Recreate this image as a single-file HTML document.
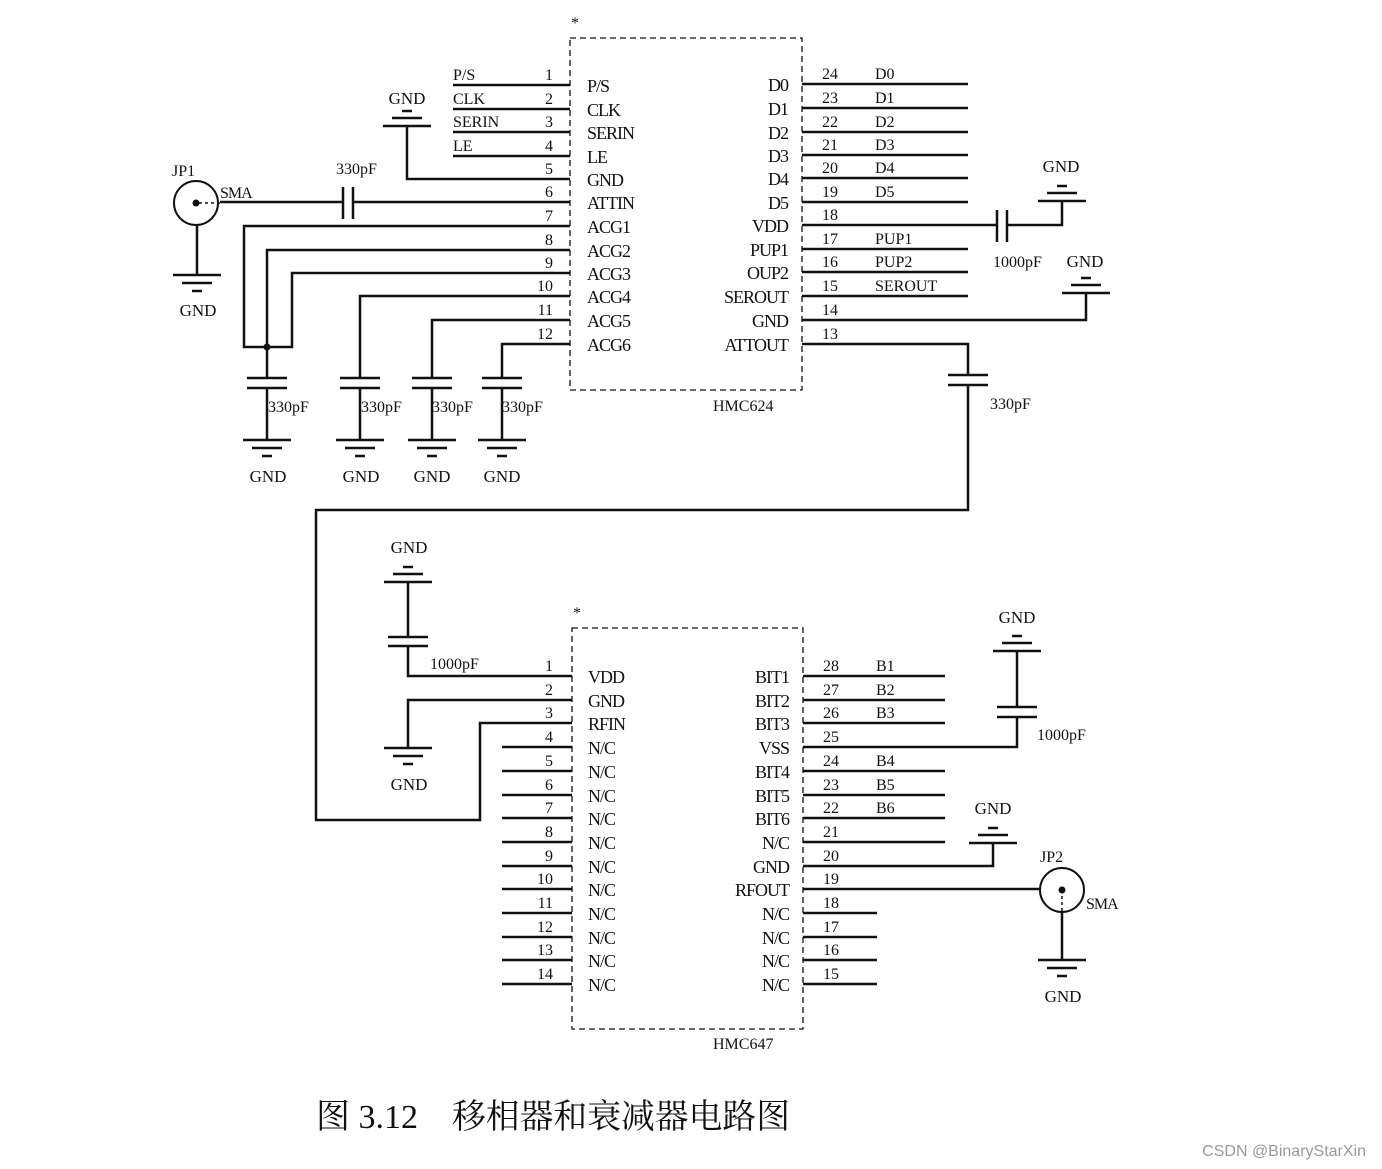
<!DOCTYPE html>
<html><head><meta charset="utf-8"><style>
html,body{margin:0;padding:0;background:#fff;}
svg{display:block;}
text{font-family:"Liberation Serif",serif;fill:#111;}
.l{font-size:18px;letter-spacing:-1px;}
.n{font-size:16px;}
.g{font-size:17px;text-anchor:middle;}
.e{text-anchor:end;}
.m{text-anchor:middle;}
</style></head><body>
<svg width="1382" height="1169" viewBox="0 0 1382 1169" xmlns="http://www.w3.org/2000/svg">
<g fill="none" stroke="#111" stroke-width="2.5">
<rect x="570" y="38" width="232" height="352" stroke-width="1.3" stroke-dasharray="6,4"/>
<rect x="572" y="628" width="231" height="401" stroke-width="1.3" stroke-dasharray="6,4"/>
<path d="M453 85H570M453 109H570M453 132H570M453 156H570"/>
<path d="M570 179H407V126"/>
<path d="M383 126h48M392 118h30M402 111h10"/>
<path d="M570 202H353M343 202H220"/>
<path d="M343 187v32M353 187v32"/>
<path d="M220 203H198" stroke-dasharray="3,3" stroke-width="1.5"/>
<circle cx="196" cy="203" r="22" stroke-width="2"/>
<path d="M197 225V275M173 275h48M182 283h30M192 291h10"/>
<path d="M570 226H244V347H292V273H570"/>
<path d="M570 250H267V378"/>
<path d="M570 296H360V378M570 320H432V378M570 344H502V378"/>
<path d="M247 378h40M247 388h40M340 378h40M340 388h40M412 378h40M412 388h40M482 378h40M482 388h40"/>
<path d="M267 388V440M360 388V440M432 388V440M502 388V440"/>
<path d="M243 440h48M252 448h30M262 456h10M336 440h48M345 448h30M355 456h10M408 440h48M417 448h30M427 456h10M478 440h48M487 448h30M497 456h10"/>
<path d="M802 84H968M802 108H968M802 132H968M802 155H968M802 178H968M802 202H968M802 249H968M802 272H968M802 296H968"/>
<path d="M802 225H997M1007 225H1062V201M997 210v32M1007 210v32"/>
<path d="M1038 201h48M1047 193h30M1057 186h10"/>
<path d="M802 320H1086V293M1062 293h48M1071 285h30M1081 278h10"/>
<path d="M802 344H968V375M948 375h40M948 385h40M968 385V510H316V820H480V723H572"/>
<path d="M572 676H408V646M388 646h40M388 637h40M408 637V582M384 582h48M393 574h30M403 567h10"/>
<path d="M572 700H408V748M384 748h48M393 756h30M403 764h10"/>
<path d="M502 747H572M502 771H572M502 795H572M502 818H572M502 842H572M502 866H572M502 889H572M502 913H572M502 937H572M502 960H572M502 984H572"/>
<path d="M803 676H945M803 700H945M803 723H945M803 771H945M803 795H945M803 818H945M803 842H945"/>
<path d="M803 747H1017V717M997 717h40M997 707h40M1017 707V651M993 651h48M1002 643h30M1012 636h10"/>
<path d="M803 866H993V843M969 843h48M978 835h30M988 828h10"/>
<path d="M803 889H1040"/>
<circle cx="1062" cy="890" r="22" stroke-width="2"/>
<path d="M1062 890V912" stroke-dasharray="3,3" stroke-width="1.5"/>
<path d="M1062 912V960M1038 960h48M1047 968h30M1057 976h10"/>
<path d="M803 913H877M803 937H877M803 960H877M803 984H877"/>
</g>
<g fill="#111">
<circle cx="196" cy="203" r="3.5"/><circle cx="267" cy="347" r="3.5"/><circle cx="1062" cy="890" r="3.5"/>
</g>
<text x="571" y="28" class="n">*</text>
<text x="573" y="618" class="n">*</text>
<g class="l">
<text x="587" y="92">P/S</text><text x="587" y="116">CLK</text><text x="587" y="139">SERIN</text><text x="587" y="163">LE</text>
<text x="587" y="186">GND</text><text x="587" y="209">ATTIN</text><text x="587" y="233">ACG1</text><text x="587" y="257">ACG2</text>
<text x="587" y="280">ACG3</text><text x="587" y="303">ACG4</text><text x="587" y="327">ACG5</text><text x="587" y="351">ACG6</text>
</g>
<g class="l e">
<text x="788" y="91">D0</text><text x="788" y="115">D1</text><text x="788" y="139">D2</text><text x="788" y="162">D3</text>
<text x="788" y="185">D4</text><text x="788" y="209">D5</text><text x="788" y="232">VDD</text><text x="788" y="256">PUP1</text>
<text x="788" y="279">OUP2</text><text x="788" y="303">SEROUT</text><text x="788" y="327">GND</text><text x="788" y="351">ATTOUT</text>
</g>
<g class="n e">
<text x="553" y="80">1</text><text x="553" y="104">2</text><text x="553" y="127">3</text><text x="553" y="151">4</text>
<text x="553" y="174">5</text><text x="553" y="197">6</text><text x="553" y="221">7</text><text x="553" y="245">8</text>
<text x="553" y="268">9</text><text x="553" y="291">10</text><text x="553" y="315">11</text><text x="553" y="339">12</text>
</g>
<g class="n">
<text x="822" y="79">24</text><text x="822" y="103">23</text><text x="822" y="127">22</text><text x="822" y="150">21</text>
<text x="822" y="173">20</text><text x="822" y="197">19</text><text x="822" y="220">18</text><text x="822" y="244">17</text>
<text x="822" y="267">16</text><text x="822" y="291">15</text><text x="822" y="315">14</text><text x="822" y="339">13</text>
<text x="875" y="79">D0</text><text x="875" y="103">D1</text><text x="875" y="127">D2</text><text x="875" y="150">D3</text>
<text x="875" y="173">D4</text><text x="875" y="197">D5</text><text x="875" y="244">PUP1</text><text x="875" y="267">PUP2</text><text x="875" y="291">SEROUT</text>
<text x="453" y="80">P/S</text><text x="453" y="104">CLK</text><text x="453" y="127">SERIN</text><text x="453" y="151">LE</text>
<text x="172" y="176">JP1</text><text x="220" y="198" style="letter-spacing:-1px">SMA</text>
<text x="336" y="174">330pF</text>
<text x="268" y="412">330pF</text><text x="361" y="412">330pF</text><text x="432" y="412">330pF</text><text x="502" y="412">330pF</text>
<text x="990" y="409">330pF</text>
<text x="993" y="267">1000pF</text>
<text x="713" y="411">HMC624</text>
</g>
<g class="g">
<text x="407" y="104">GND</text><text x="198" y="316">GND</text>
<text x="268" y="482">GND</text><text x="361" y="482">GND</text><text x="432" y="482">GND</text><text x="502" y="482">GND</text>
<text x="1061" y="172">GND</text><text x="1085" y="267">GND</text>
<text x="409" y="553">GND</text><text x="409" y="790">GND</text>
<text x="1017" y="623">GND</text><text x="993" y="814">GND</text><text x="1063" y="1002">GND</text>
</g>
<g class="l">
<text x="588" y="683">VDD</text><text x="588" y="707">GND</text><text x="588" y="730">RFIN</text>
<text x="588" y="754">N/C</text><text x="588" y="778">N/C</text><text x="588" y="802">N/C</text><text x="588" y="825">N/C</text>
<text x="588" y="849">N/C</text><text x="588" y="873">N/C</text><text x="588" y="896">N/C</text><text x="588" y="920">N/C</text>
<text x="588" y="944">N/C</text><text x="588" y="967">N/C</text><text x="588" y="991">N/C</text>
</g>
<g class="l e">
<text x="789" y="683">BIT1</text><text x="789" y="707">BIT2</text><text x="789" y="730">BIT3</text><text x="789" y="754">VSS</text>
<text x="789" y="778">BIT4</text><text x="789" y="802">BIT5</text><text x="789" y="825">BIT6</text><text x="789" y="849">N/C</text>
<text x="789" y="873">GND</text><text x="789" y="896">RFOUT</text><text x="789" y="920">N/C</text><text x="789" y="944">N/C</text>
<text x="789" y="967">N/C</text><text x="789" y="991">N/C</text>
</g>
<g class="n e">
<text x="553" y="671">1</text><text x="553" y="695">2</text><text x="553" y="718">3</text><text x="553" y="742">4</text>
<text x="553" y="766">5</text><text x="553" y="790">6</text><text x="553" y="813">7</text><text x="553" y="837">8</text>
<text x="553" y="861">9</text><text x="553" y="884">10</text><text x="553" y="908">11</text><text x="553" y="932">12</text>
<text x="553" y="955">13</text><text x="553" y="979">14</text>
</g>
<g class="n">
<text x="823" y="671">28</text><text x="823" y="695">27</text><text x="823" y="718">26</text><text x="823" y="742">25</text>
<text x="823" y="766">24</text><text x="823" y="790">23</text><text x="823" y="813">22</text><text x="823" y="837">21</text>
<text x="823" y="861">20</text><text x="823" y="884">19</text><text x="823" y="908">18</text><text x="823" y="932">17</text>
<text x="823" y="955">16</text><text x="823" y="979">15</text>
<text x="876" y="671">B1</text><text x="876" y="695">B2</text><text x="876" y="718">B3</text>
<text x="876" y="766">B4</text><text x="876" y="790">B5</text><text x="876" y="813">B6</text>
<text x="430" y="669">1000pF</text><text x="1037" y="740">1000pF</text>
<text x="1040" y="862">JP2</text><text x="1086" y="909" style="letter-spacing:-1px">SMA</text>
<text x="713" y="1049">HMC647</text>
</g>
<text x="316" y="1128" style="font-family:'Liberation Serif','Noto Serif CJK SC',serif;font-size:34px;">图 3.12</text>
<text x="452" y="1128" textLength="338" lengthAdjust="spacingAndGlyphs" style="font-family:'Liberation Serif','Noto Serif CJK SC',serif;font-size:34px;">移相器和衰减器电路图</text>
<text x="1366" y="1156" style="font-family:'Liberation Sans',sans-serif;font-size:16px;fill:#999;text-anchor:end;">CSDN @BinaryStarXin</text>
</svg>
</body></html>
